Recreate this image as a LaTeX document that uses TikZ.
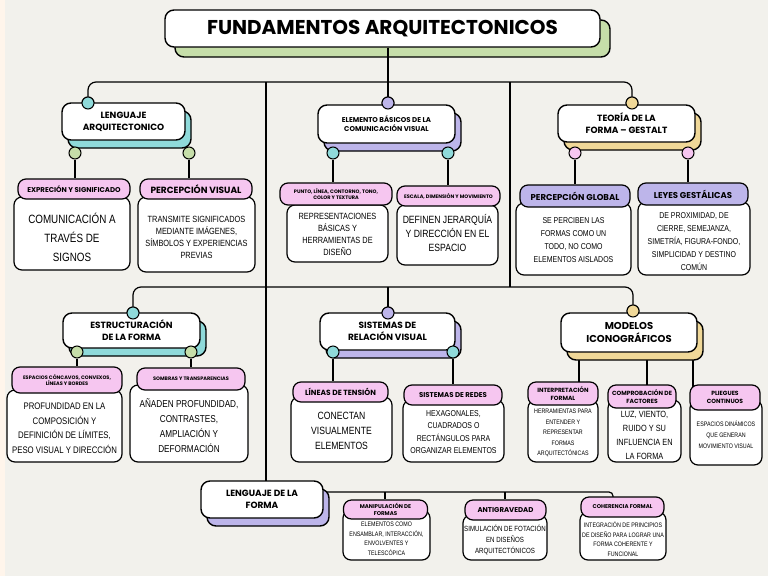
\documentclass[tikz,border=0pt]{standalone}
\usepackage{fontspec}
\usetikzlibrary{shadows}
\newfontfamily\hfnt{Poppins}
\newfontfamily\bfnt{Liberation Sans}[FakeStretch=0.82]
\definecolor{bgc}{HTML}{F2F1EC}
\definecolor{tealc}{HTML}{8FDADA}
\definecolor{purc}{HTML}{BDB5EA}
\definecolor{yelc}{HTML}{F0D898}
\definecolor{grnc}{HTML}{C6DEA9}
\definecolor{pinkc}{HTML}{F6C6F0}
\tikzset{
 conn/.style={line width=1.2pt},
 sz/.style 2 args={minimum width=#1pt, minimum height=#2pt},
 mainbox/.style={draw, line width=1.4pt, rounded corners=9pt, fill=white, align=center,
   font=\hfnt\bfseries\fontsize{9}{12}\selectfont, inner sep=2pt},
 sh/.style={general shadow={draw, line width=1.4pt, rounded corners=9pt, fill=#1, shadow xshift=6pt, shadow yshift=-8pt}},
 bodybox/.style={draw, line width=1.2pt, rounded corners=8pt, fill=white, inner sep=0pt},
 hdr/.style={draw, line width=1.2pt, rounded corners=8pt, fill=pinkc, align=center, inner sep=1pt,
   font=\hfnt\bfseries\fontsize{7}{8}\selectfont},
 txt/.style={align=center, font=\bfnt\fontsize{9}{12}\selectfont, inner sep=0pt},
 dot/.style={circle, draw, line width=1pt, minimum size=12pt, inner sep=0pt},
}
\begin{document}
\begin{tikzpicture}[x=1pt,y=-1pt]
\fill[bgc] (0,0) rectangle (768,576);
\fill[orange!8] (0,0) rectangle (5,576);
\useasboundingbox (0,0) rectangle (768,576);
% coordinates
\coordinate (hL) at (88,82); \coordinate (hR) at (632,82);
\coordinate (v1t) at (266,82); \coordinate (v1b) at (266,481);
\coordinate (v2t) at (510,82); \coordinate (v2b) at (510,287);
\coordinate (rL) at (133,287); \coordinate (rR) at (633,287); \coordinate (rC) at (388,287);
% Title
\node[mainbox, general shadow={draw, line width=1.4pt, rounded corners=9pt, fill=grnc, shadow xshift=10pt, shadow yshift=-10pt}, sz={435}{37}, font=\hfnt\bfseries\fontsize{20}{22}\selectfont] (title) at (382.5,28.5) {FUNDAMENTOS ARQUITECTONICOS};
% dots row 1
\node[dot, fill=tealc] (dLA) at (88,103) {};
\node[dot, fill=purc] (dEB) at (388,103) {};
\node[dot, fill=yelc] (dTF) at (632,103) {};
\draw[conn, rounded corners=8pt] (dLA.north) -- (hL) -- (hR) -- (dTF.north);
\draw[conn] (title.south -| dEB) -- (dEB.north);
\draw[conn] (v1t) -- (v1b);
\draw[conn] (v2t) -- (v2b);
% row1 main boxes
\node[mainbox, sh=tealc, sz={123}{37}] (LA) at (123.5,121.5) {LENGUAJE\\ARQUITECTONICO};
\node[mainbox, sh=purc, sz={137}{38}, font=\hfnt\bfseries\fontsize{7}{9}\selectfont] (EB) at (386.5,124) {ELEMENTO BÁSICOS DE LA\\COMUNICACIÓN VISUAL};
\node[mainbox, sh=yelc, sz={137}{37}] (TF) at (626.5,123.5) {TEORÍA DE LA\\FORMA – GESTALT};
\node[dot, fill=tealc] at (88,103) {};
\node[dot, fill=purc] at (388,103) {};
\node[dot, fill=yelc] at (632,103) {};
\node[dot, fill=grnc] (d1a) at (75,153) {};
\node[dot, fill=grnc] (d1b) at (189,153) {};
\node[dot, fill=tealc] (d2a) at (333,153) {};
\node[dot, fill=tealc] (d2b) at (448,153) {};
\node[dot, fill=pinkc] (d3a) at (575,153) {};
\node[dot, fill=pinkc] (d3b) at (688,153) {};
% row1 children
\node[bodybox, sz={116}{73}] (b1) at (72,233.5) {};
\node[hdr, sz={112}{20}] (h1) at (74,189) {EXPRECIÓN Y SIGNIFICADO};
\node[txt, font=\bfnt\fontsize{12}{19}\selectfont] (t1) at (72,237) {COMUNICACIÓN A\\TRAVÉS DE\\SIGNOS};
\node[bodybox, sz={117}{75}] (b2) at (196.5,234.5) {};
\node[hdr, sz={112}{20}, font=\hfnt\bfseries\fontsize{9}{10}\selectfont] (h2) at (196,189) {PERCEPCIÓN VISUAL};
\node[txt] (t2) at (196.5,237) {TRANSMITE SIGNIFICADOS\\MEDIANTE IMÁGENES,\\SÍMBOLOS Y EXPERIENCIAS\\PREVIAS};
\node[bodybox, sz={101}{57}] (b3) at (337.5,233.5) {};
\node[hdr, sz={112}{22}, font=\hfnt\bfseries\fontsize{5}{6}\selectfont] (h3) at (336,194) {PUNTO, LÍNEA, CONTORNO, TONO,\\COLOR Y TEXTURA};
\node[txt] (t3) at (337.5,234) {REPRESENTACIONES\\BÁSICAS Y\\HERRAMIENTAS DE\\DISEÑO};
\node[bodybox, sz={101}{60}] (b4) at (447.5,235) {};
\node[hdr, sz={103}{20}, font=\hfnt\bfseries\fontsize{5}{6}\selectfont] (h4) at (448.5,196) {ESCALA, DIMENSIÓN Y MOVIMIENTO};
\node[txt, font=\bfnt\fontsize{10.5}{14}\selectfont] (t4) at (447.5,233) {DEFINEN JERARQUÍA\\Y DIRECCIÓN EN EL\\ESPACIO};
\node[bodybox, sz={115}{72}] (b5) at (573.5,239) {};
\node[hdr, fill=purc, sz={110}{22}, font=\hfnt\bfseries\fontsize{8.5}{10}\selectfont] (h5) at (575,196) {PERCEPCIÓN GLOBAL};
\node[txt, font=\bfnt\fontsize{8.5}{13}\selectfont] (t5) at (573.5,240) {SE PERCIBEN LAS\\FORMAS COMO UN\\TODO, NO COMO\\ELEMENTOS AISLADOS};
\node[bodybox, sz={112}{73}] (b6) at (694,238.5) {};
\node[hdr, fill=purc, sz={110}{22}, font=\hfnt\bfseries\fontsize{8.5}{10}\selectfont] (h6) at (693,194) {LEYES GESTÁLICAS};
\node[txt, font=\bfnt\fontsize{8.5}{13}\selectfont] (t6) at (694,242) {DE PROXIMIDAD, DE\\CIERRE, SEMEJANZA,\\SIMETRÍA, FIGURA-FONDO,\\SIMPLICIDAD Y DESTINO\\COMÚN};
\draw[conn] (d1a.south) -- (h1.north -| d1a);
\draw[conn] (d1b.south) -- (h2.north -| d1b);
\draw[conn] (d2a.south) -- (h3.north -| d2a);
\draw[conn] (d2b.south) -- (h4.north -| d2b);
\draw[conn] (d3a.south) -- (h5.north -| d3a);
\draw[conn] (d3b.south) -- (h6.north -| d3b);
% row 2 connectors
\node[dot, fill=tealc] (dES) at (133,313) {};
\node[dot, fill=purc] (dSR) at (388,313) {};
\node[dot, fill=yelc] (dMI) at (633,311) {};
\draw[conn, rounded corners=8pt] (dES.north) -- (rL) -- (rR) -- (dMI.north);
\draw[conn] (rC) -- (dSR.north);
% Modelos children lines
\coordinate (m1) at (579,350); \coordinate (m2) at (647,350); \coordinate (m3) at (693,350);
\draw[conn] (m1) -- (579,385); \draw[conn] (m2) -- (647,388); \draw[conn] (m3) -- (693,388);
% row2 main boxes
\node[mainbox, sh=tealc, sz={137}{35}] (ES) at (131.5,330.5) {ESTRUCTURACIÓN\\DE LA FORMA};
\node[mainbox, sh=purc, sz={135}{37}] (SR) at (387.5,331.5) {SISTEMAS DE\\RELACIÓN VISUAL};
\node[mainbox, sh=yelc, sz={136}{39}, font=\hfnt\bfseries\fontsize{10}{13}\selectfont] (MI) at (629,332.5) {MODELOS\\ICONOGRÁFICOS};
\node[dot, fill=tealc] at (133,313) {};
\node[dot, fill=purc] at (388,313) {};
\node[dot, fill=yelc] at (633,311) {};
\node[dot, fill=grnc] (e1) at (77,352) {};
\node[dot, fill=grnc] (e2) at (191,352) {};
\node[dot, fill=tealc] (s1) at (333,352) {};
\node[dot, fill=tealc] (s2) at (453,352) {};
% row2 children
\node[bodybox, sz={115}{72}] (b7) at (64.5,426) {};
\node[hdr, sz={110}{26}, font=\hfnt\bfseries\fontsize{5}{6.5}\selectfont] (h7) at (67,380) {ESPACIOS CÓNCAVOS, CONVEXOS,\\LÍNEAS Y BORDES};
\node[txt, font=\bfnt\fontsize{9.5}{14.5}\selectfont] (t7) at (64.5,428) {PROFUNDIDAD EN LA\\COMPOSICIÓN Y\\DEFINICIÓN DE LÍMITES,\\PESO VISUAL Y DIRECCIÓN};
\node[bodybox, sz={118}{77}] (b8) at (189,423.5) {};
\node[hdr, sz={108}{22}, font=\hfnt\bfseries\fontsize{5}{6}\selectfont] (h8) at (191,379) {SOMBRAS Y TRANSPARENCIAS};
\node[txt, font=\bfnt\fontsize{10}{15}\selectfont] (t8) at (189,426) {AÑADEN PROFUNDIDAD,\\CONTRASTES,\\AMPLIACIÓN Y\\DEFORMACIÓN};
\node[bodybox, sz={101}{65}] (b9) at (341.5,429.5) {};
\node[hdr, sz={95}{20}, font=\hfnt\bfseries\fontsize{7.5}{9}\selectfont] (h9) at (340.5,392) {LÍNEAS DE TENSIÓN};
\node[txt, font=\bfnt\fontsize{10.5}{15}\selectfont] (t9) at (341.5,431) {CONECTAN\\VISUALMENTE\\ELEMENTOS};
\node[bodybox, sz={101}{62}] (b10) at (453.5,431) {};
\node[hdr, sz={98}{20}, font=\hfnt\bfseries\fontsize{7}{8}\selectfont] (h10) at (453,395) {SISTEMAS DE REDES};
\node[txt, font=\bfnt\fontsize{8.5}{12.5}\selectfont] (t10) at (453.5,432) {HEXAGONALES,\\CUADRADOS O\\RECTÁNGULOS PARA\\ORGANIZAR ELEMENTOS};
\node[bodybox, sz={70}{62}] (b11) at (563,431) {};
\node[hdr, sz={70}{23}, font=\hfnt\bfseries\fontsize{6}{7.5}\selectfont] (h11) at (563,393.5) {INTERPRETACIÓN\\FORMAL};
\node[txt, font=\bfnt\fontsize{6.5}{10.5}\selectfont] (t11) at (563,433) {HERRAMIENTAS PARA\\ENTENDER Y\\REPRESENTAR\\FORMAS\\ARQUITECTÓNICAS};
\node[bodybox, sz={73}{62}] (b12) at (644.5,431) {};
\node[hdr, sz={68}{23}, font=\hfnt\bfseries\fontsize{6}{7.5}\selectfont] (h12) at (642,396.5) {COMPROBACIÓN DE\\FACTORES};
\node[txt, font=\bfnt\fontsize{9}{14}\selectfont] (t12) at (644.5,435) {LUZ, VIENTO,\\RUIDO Y SU\\INFLUENCIA EN\\LA FORMA};
\node[bodybox, sz={72}{65}] (b13) at (726,432.5) {};
\node[hdr, sz={70}{25}, font=\hfnt\bfseries\fontsize{6}{7.5}\selectfont] (h13) at (725,397.5) {PLIEGUES\\CONTINUOS};
\node[txt, font=\bfnt\fontsize{6.5}{11}\selectfont] (t13) at (726,435) {ESPACIOS DINÁMICOS\\QUE GENERAN\\MOVIMIENTO VISUAL};
\draw[conn] (e1.south) -- (h7.north -| e1);
\draw[conn] (e2.south) -- (h8.north -| e2);
\draw[conn] (s1.south) -- (h9.north -| s1);
\draw[conn] (s2.south) -- (h10.north -| s2);
% row3
\coordinate (r3R) at (613,492);
\draw[conn, rounded corners=4pt] (323,492) -- (r3R) -- (613,497);
\node[mainbox, sh=purc, sz={122}{37}] (LF) at (262,499.5) {LENGUAJE DE LA\\FORMA};
\node[bodybox, sz={87}{50}] (b14) at (386.5,535) {};
\node[hdr, sz={84}{19}, font=\hfnt\bfseries\fontsize{5.5}{6.5}\selectfont] (h14) at (385.5,509.5) {MANIPULACIÓN DE\\FORMAS};
\node[txt, font=\bfnt\fontsize{6.5}{9.5}\selectfont] (t14) at (386.5,539) {ELEMENTOS COMO\\ENSAMBLAR, INTERACCIÓN,\\ENVOLVENTES Y\\TELESCÓPICA};
\node[bodybox, sz={84}{45}] (b15) at (505,537.5) {};
\node[hdr, sz={81}{20}, font=\hfnt\bfseries\fontsize{7}{8}\selectfont] (h15) at (505.5,510) {ANTIGRAVEDAD};
\node[txt, font=\bfnt\fontsize{7.5}{11}\selectfont] (t15) at (505,540) {SIMULACIÓN DE FOTACIÓN\\EN DISEÑOS\\ARQUITECTÓNICOS};
\node[bodybox, sz={86}{48}] (b16) at (623,536) {};
\node[hdr, sz={83}{20}, font=\hfnt\bfseries\fontsize{5.5}{6.5}\selectfont] (h16) at (622.5,507) {COHERENCIA FORMAL};
\node[txt, font=\bfnt\fontsize{6.5}{9.5}\selectfont] (t16) at (623,539) {INTEGRACIÓN DE PRINCIPIOS\\DE DISEÑO PARA LOGRAR UNA\\FORMA COHERENTE Y\\FUNCIONAL};
\coordinate (c14) at (385,492); \coordinate (c15) at (505,492);
\draw[conn] (c14) -- (h14.north -| c14);
\draw[conn] (c15) -- (h15.north -| c15);
\end{tikzpicture}
\end{document}
